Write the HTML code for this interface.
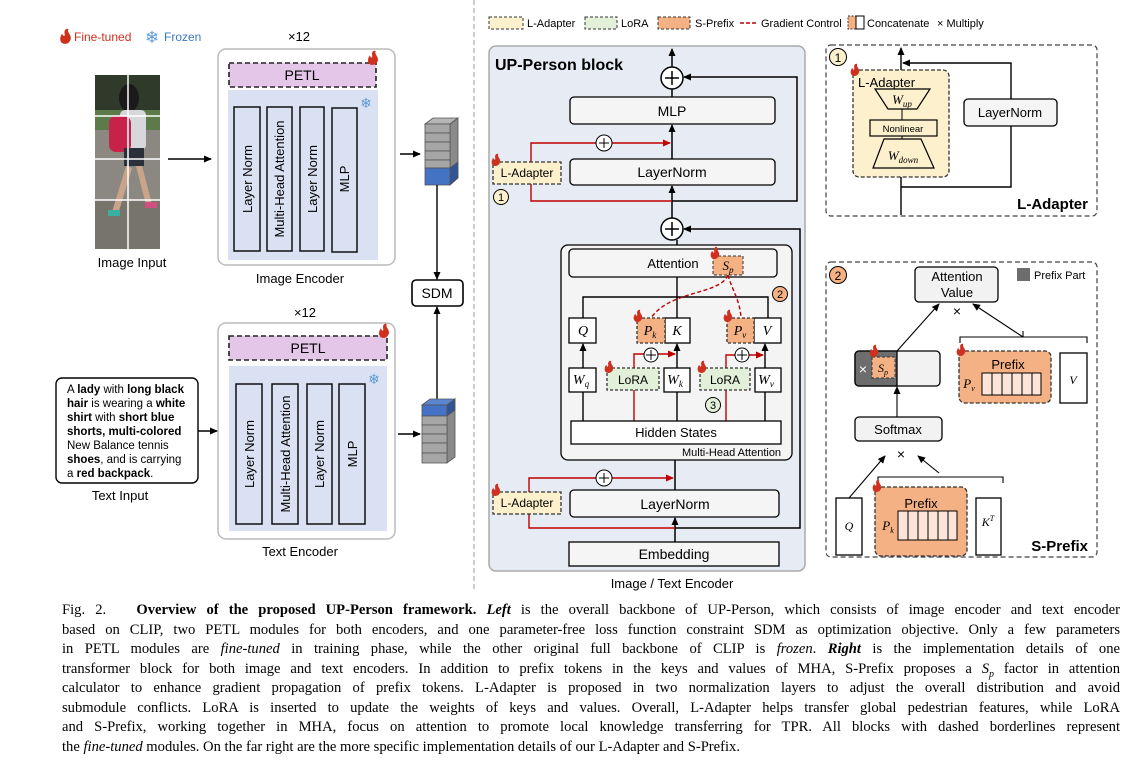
<!DOCTYPE html>
<html><head><meta charset="utf-8"><style>
body{margin:0;width:1140px;height:768px;background:#fff;position:relative;overflow:hidden}
svg{position:absolute;left:0;top:0}
.cap{position:absolute;left:62px;top:601px;width:1058px;font-family:"Liberation Serif",serif;font-size:14.6px;color:#000}
.cap div{height:19.5px;line-height:19.5px;text-align:justify;text-align-last:justify;white-space:nowrap}
.cap div.l{text-align-last:left}
</style></head><body>
<svg width="1140" height="600" viewBox="0 0 1140 600" font-family="Liberation Sans, sans-serif">
<defs>
<symbol id="fl" viewBox="-6 -1 12 15" overflow="visible"><path d="M0,13 C-4.5,13 -5.5,8 -2.5,4 C-1.5,7 0.5,7 -0.5,3 C-0.5,0 2,-1 3,0 C1.5,3 6,5 5,9 C4,12 2,13 0,13Z" fill="#d0301e"/></symbol>
<marker id="ab" markerWidth="8" markerHeight="8" refX="7" refY="4" orient="auto" markerUnits="userSpaceOnUse"><path d="M0,0.5 L8,4 L0,7.5Z" fill="#000"/></marker>
<marker id="ar" markerWidth="8" markerHeight="8" refX="7" refY="4" orient="auto" markerUnits="userSpaceOnUse"><path d="M0,0.5 L8,4 L0,7.5Z" fill="#c00000"/></marker>
</defs>

<!-- legend left -->
<use href="#fl" x="58" y="28" width="14" height="17"/>
<text x="74" y="41" font-size="12" fill="#d0301e">Fine-tuned</text>
<text x="152" y="43" font-size="17" fill="#5b9bd5" text-anchor="middle">❄</text>
<text x="164" y="41" font-size="12" fill="#3b78c4">Frozen</text>

<!-- image input -->
<rect x="95" y="75" width="65" height="174" fill="#7e827a"/>
<rect x="95" y="75" width="65" height="40" fill="#2f3a2a"/>
<rect x="95" y="110" width="65" height="20" fill="#5d7a4a"/>
<rect x="95" y="130" width="65" height="119" fill="#8a8880"/>
<rect x="95" y="200" width="65" height="49" fill="#77746c"/>
<ellipse cx="129" cy="98" rx="10" ry="14" fill="#1a1a1a"/>
<rect x="120" y="110" width="26" height="40" rx="5" fill="#d8d8dc"/>
<rect x="109" y="116" width="22" height="36" rx="7" fill="#c8224a"/>
<rect x="124" y="148" width="20" height="18" fill="#2a2f3a"/>
<path d="M126,166 L112,212 L118,214 L132,168Z M136,166 L146,205 L152,204 L142,166Z" fill="#c9a48a"/>
<rect x="108" y="210" width="12" height="6" fill="#3ab0a0"/><rect x="145" y="202" width="12" height="6" fill="#d05080"/>
<g stroke="#fff" stroke-width="1.5"><line x1="128" y1="75" x2="128" y2="249"/><line x1="95" y1="116" x2="160" y2="116"/><line x1="95" y1="159" x2="160" y2="159"/><line x1="95" y1="200" x2="160" y2="200"/></g>
<text x="132" y="267" font-size="13" text-anchor="middle">Image Input</text>
<line x1="168" y1="159" x2="211" y2="159" stroke="#000" stroke-width="1.4" marker-end="url(#ab)"/>

<!-- image encoder -->
<text x="299" y="41" font-size="13" text-anchor="middle">×12</text>
<rect x="218" y="49" width="177" height="216" rx="8" fill="#fff" stroke="#bbb" stroke-width="1.5"/>
<rect x="228" y="90" width="150" height="170" fill="#dae1f2"/>
<rect x="229" y="63" width="147" height="24" fill="#e3c6e8" stroke="#222" stroke-width="1.6" stroke-dasharray="5,3"/>
<text x="302" y="80" font-size="14" text-anchor="middle">PETL</text>
<use href="#fl" x="366" y="50" width="13" height="16"/>
<text x="366" y="108" font-size="14" fill="#5b9bd5" text-anchor="middle">❄</text>
<g fill="#dae1f2" stroke="#111" stroke-width="1.5">
<rect x="234" y="107" width="26" height="144"/><rect x="267" y="107" width="25" height="144"/><rect x="300" y="107" width="24" height="144"/><rect x="332" y="108" width="25" height="144"/></g>
<g font-size="13" text-anchor="middle">
<text transform="translate(252,179) rotate(-90)">Layer Norm</text>
<text transform="translate(284,179) rotate(-90)">Multi-Head Attention</text>
<text transform="translate(317,179) rotate(-90)">Layer Norm</text>
<text transform="translate(349,179) rotate(-90)">MLP</text></g>
<text x="300" y="283" font-size="13" text-anchor="middle">Image Encoder</text>
<line x1="400" y1="154" x2="420" y2="154" stroke="#000" stroke-width="1.4" marker-end="url(#ab)"/>

<!-- stack 1 -->
<g stroke="#555" stroke-width="0.8">
<path d="M425,124 L433,118 L458,118 L450,124Z" fill="#b5b5b5"/>
<path d="M450,124 L458,118 L458,178 L450,185Z" fill="#8a8a8a"/>
<rect x="425" y="124" width="25" height="9" fill="#a6a6a6"/><rect x="425" y="133" width="25" height="9" fill="#a6a6a6"/><rect x="425" y="142" width="25" height="9" fill="#a6a6a6"/><rect x="425" y="151" width="25" height="9" fill="#a6a6a6"/><rect x="425" y="160" width="25" height="8" fill="#a6a6a6"/><rect x="425" y="168" width="25" height="17" fill="#4472c4"/>
<path d="M450,168 L458,162 L458,178 L450,185Z" fill="#2f5597"/></g>
<line x1="437" y1="185" x2="437" y2="279" stroke="#000" stroke-width="1.4" marker-end="url(#ab)"/>
<rect x="412" y="280" width="51" height="26" rx="4" fill="#fff" stroke="#000" stroke-width="1.6"/>
<text x="437" y="298" font-size="14" text-anchor="middle">SDM</text>
<line x1="437" y1="399" x2="437" y2="307" stroke="#000" stroke-width="1.4" marker-end="url(#ab)"/>

<!-- text encoder -->
<text x="305" y="317" font-size="13" text-anchor="middle">×12</text>
<rect x="218" y="323" width="177" height="216" rx="8" fill="#fff" stroke="#bbb" stroke-width="1.5"/>
<rect x="229" y="366" width="158" height="165" fill="#dae1f2"/>
<rect x="229" y="336" width="158" height="24" fill="#e3c6e8" stroke="#222" stroke-width="1.6" stroke-dasharray="5,3"/>
<text x="308" y="353" font-size="14" text-anchor="middle">PETL</text>
<use href="#fl" x="377" y="323" width="13" height="16"/>
<text x="374" y="384" font-size="14" fill="#5b9bd5" text-anchor="middle">❄</text>
<g fill="#dae1f2" stroke="#111" stroke-width="1.5">
<rect x="236" y="384" width="26" height="140"/><rect x="272" y="384" width="26" height="140"/><rect x="307" y="384" width="25" height="140"/><rect x="339" y="384" width="26" height="140"/></g>
<g font-size="13" text-anchor="middle">
<text transform="translate(254,454) rotate(-90)">Layer Norm</text>
<text transform="translate(290,454) rotate(-90)">Multi-Head Attention</text>
<text transform="translate(324,454) rotate(-90)">Layer Norm</text>
<text transform="translate(357,454) rotate(-90)">MLP</text></g>
<text x="300" y="556" font-size="13" text-anchor="middle">Text Encoder</text>

<!-- text input -->
<rect x="56" y="378" width="142" height="105" rx="6" fill="#fff" stroke="#000" stroke-width="1.4"/>
<g font-size="11.5">
<text x="67" y="393">A <tspan font-weight="bold">lady</tspan> with <tspan font-weight="bold">long black</tspan></text>
<text x="67" y="407"><tspan font-weight="bold">hair</tspan> is wearing a <tspan font-weight="bold">white</tspan></text>
<text x="67" y="421"><tspan font-weight="bold">shirt</tspan> with <tspan font-weight="bold">short blue</tspan></text>
<text x="67" y="435" font-weight="bold">shorts, multi-colored</text>
<text x="67" y="449">New Balance tennis</text>
<text x="67" y="463"><tspan font-weight="bold">shoes</tspan>, and is carrying</text>
<text x="67" y="477">a <tspan font-weight="bold">red backpack</tspan>.</text></g>
<text x="120" y="500" font-size="13" text-anchor="middle">Text Input</text>
<line x1="198" y1="431" x2="217" y2="431" stroke="#000" stroke-width="1.4" marker-end="url(#ab)"/>
<line x1="398" y1="434" x2="420" y2="434" stroke="#000" stroke-width="1.4" marker-end="url(#ab)"/>
<!-- stack 2 -->
<g stroke="#555" stroke-width="0.8">
<path d="M422,405 L430,399 L455,399 L447,405Z" fill="#5b86d0"/>
<path d="M447,405 L455,399 L455,457 L447,463Z" fill="#8a8a8a"/>
<path d="M447,405 L455,399 L455,410 L447,416Z" fill="#2f5597"/>
<rect x="422" y="405" width="25" height="11" fill="#4472c4"/><rect x="422" y="416" width="25" height="9" fill="#a6a6a6"/><rect x="422" y="425" width="25" height="9" fill="#a6a6a6"/><rect x="422" y="434" width="25" height="9" fill="#a6a6a6"/><rect x="422" y="443" width="25" height="10" fill="#a6a6a6"/><rect x="422" y="453" width="25" height="10" fill="#a6a6a6"/></g>

<line x1="474" y1="0" x2="474" y2="590" stroke="#bbb" stroke-width="1.5" stroke-dasharray="5,3"/>

<!-- top legend -->
<g font-size="11">
<rect x="489" y="17" width="34" height="12" fill="#fdf0cc" stroke="#333" stroke-dasharray="3,2"/><text x="527" y="27">L-Adapter</text>
<rect x="585" y="17" width="32" height="12" fill="#e2efd9" stroke="#333" stroke-dasharray="3,2"/><text x="621" y="27">LoRA</text>
<rect x="658" y="17" width="32" height="12" fill="#f4b183" stroke="#333" stroke-dasharray="3,2"/><text x="695" y="27">S-Prefix</text>
<line x1="740" y1="23" x2="758" y2="23" stroke="#c00000" stroke-width="1.6" stroke-dasharray="4,2"/><text x="761" y="27">Gradient Control</text>
<rect x="848" y="16" width="8" height="13" fill="#f4b183" stroke="#333" stroke-dasharray="2,1.5"/><rect x="856" y="16" width="8" height="13" fill="#fff" stroke="#000"/><text x="867" y="27">Concatenate</text>
<text x="937" y="27">× Multiply</text></g>

<!-- UP-Person block -->
<rect x="489" y="46" width="316" height="525" rx="7" fill="#e7ebf3" stroke="#aaa" stroke-width="1.5"/>
<text x="495" y="70" font-size="16" font-weight="bold">UP-Person block</text>
<g stroke="#000" stroke-width="1.5" fill="none">
<line x1="672" y1="67" x2="672" y2="49" marker-end="url(#ab)"/>
<line x1="672" y1="97" x2="672" y2="89"/>
<line x1="672" y1="159" x2="672" y2="125" marker-end="url(#ab)"/>
<line x1="672" y1="218" x2="672" y2="186" marker-end="url(#ab)"/>
<polyline points="672,201 797,201 797,77 684,77" marker-end="url(#ab)"/>
<line x1="677" y1="245" x2="677" y2="240"/>
<polyline points="675,528 800,528 800,229 684,229" marker-end="url(#ab)"/>
<line x1="675" y1="542" x2="675" y2="518" marker-end="url(#ab)"/>
<line x1="675" y1="490" x2="675" y2="446" marker-end="url(#ab)"/>
</g>
<circle cx="672" cy="78" r="11" fill="#fff" stroke="#000" stroke-width="1.5"/>
<path d="M665,78 h14 M672,71 v14" stroke="#000" stroke-width="1.5"/>
<circle cx="672" cy="229" r="11" fill="#fff" stroke="#000" stroke-width="1.5"/>
<path d="M665,229 h14 M672,222 v14" stroke="#000" stroke-width="1.5"/>
<rect x="570" y="97" width="205" height="27" rx="4" fill="#f5f5f5" stroke="#000" stroke-width="1.3"/>
<text x="672" y="116" font-size="14" text-anchor="middle">MLP</text>
<rect x="570" y="159" width="205" height="26" rx="4" fill="#f5f5f5" stroke="#000" stroke-width="1.3"/>
<text x="672" y="177" font-size="14" text-anchor="middle">LayerNorm</text>
<g stroke="#c00000" stroke-width="1.4" fill="none">
<polyline points="531,162 531,143 670,143" marker-end="url(#ar)"/>
<polyline points="531,184 531,201 672,201"/>
<polyline points="529,492 529,478 673,478" marker-end="url(#ar)"/>
<polyline points="529,514 529,528 675,528"/>
</g>
<circle cx="604" cy="143" r="8" fill="#fff" stroke="#000"/><path d="M599,143 h10 M604,138 v10" stroke="#000"/>
<circle cx="604" cy="478" r="8" fill="#fff" stroke="#000"/><path d="M599,478 h10 M604,473 v10" stroke="#000"/>
<rect x="493" y="162" width="68" height="22" fill="#fdf0cc" stroke="#333" stroke-width="1.3" stroke-dasharray="4,2"/>
<text x="527" y="177" font-size="12" text-anchor="middle">L-Adapter</text>
<use href="#fl" x="490" y="153" width="11" height="14"/>
<circle cx="501" cy="197" r="7.5" fill="#fdf0cc" stroke="#000"/><text x="501" y="201" font-size="11" text-anchor="middle">1</text>
<rect x="493" y="492" width="68" height="22" fill="#fdf0cc" stroke="#333" stroke-width="1.3" stroke-dasharray="4,2"/>
<text x="527" y="507" font-size="12" text-anchor="middle">L-Adapter</text>
<use href="#fl" x="490" y="483" width="11" height="14"/>

<!-- MHA -->
<rect x="561" y="245" width="231" height="215" rx="7" fill="#f4f4f4" stroke="#000" stroke-width="1.3"/>
<rect x="569" y="249" width="208" height="28" rx="4" fill="#f5f5f5" stroke="#000" stroke-width="1.3"/>
<text x="673" y="268" font-size="13" text-anchor="middle">Attention</text>
<g stroke="#000" stroke-width="1.4" fill="none">
<line x1="677" y1="277" x2="677" y2="297"/>
<polyline points="583,318 583,297 768,297 768,318"/>
<line x1="677" y1="297" x2="677" y2="318"/>
<line x1="583" y1="421" x2="583" y2="392"/><line x1="583" y1="368" x2="583" y2="344" marker-end="url(#ab)"/>
<line x1="677" y1="421" x2="677" y2="392"/><line x1="677" y1="368" x2="677" y2="344" marker-end="url(#ab)"/>
<line x1="765" y1="421" x2="765" y2="392"/><line x1="765" y1="368" x2="765" y2="344" marker-end="url(#ab)"/>
</g>
<g stroke="#c00000" stroke-width="1.4" fill="none">
<line x1="634" y1="421" x2="634" y2="390"/><polyline points="634,368 634,354 675,354" marker-end="url(#ar)"/>
<line x1="726" y1="421" x2="726" y2="390"/><polyline points="726,368 726,355 763,355" marker-end="url(#ar)"/>
<path d="M728,275 C720,295 670,290 651,318" stroke-dasharray="4,2.5"/>
<path d="M728,275 C732,290 740,300 741,318" stroke-dasharray="4,2.5"/>
</g>
<circle cx="651" cy="355" r="7" fill="#fff" stroke="#000"/><path d="M646,355 h10 M651,350 v10" stroke="#000"/>
<circle cx="742" cy="355" r="7" fill="#fff" stroke="#000"/><path d="M737,355 h10 M742,350 v10" stroke="#000"/>
<rect x="713" y="256" width="30" height="19" fill="#f4b183" stroke="#333" stroke-dasharray="3,2"/>
<text x="728" y="270" font-size="13" font-style="italic" font-family="Liberation Serif,serif" text-anchor="middle">S<tspan font-size="9" dy="3">p</tspan></text>
<use href="#fl" x="709" y="246" width="11" height="14"/>
<circle cx="780" cy="294" r="7.5" fill="#f4b183" stroke="#000"/><text x="780" y="298" font-size="11" text-anchor="middle">2</text>
<g fill="#fff" stroke="#000" stroke-width="1.3">
<rect x="569" y="318" width="27" height="25"/><rect x="665" y="318" width="25" height="25"/><rect x="754" y="318" width="27" height="25"/>
<rect x="569" y="368" width="27" height="24"/><rect x="664" y="368" width="26" height="24"/><rect x="755" y="368" width="26" height="24"/>
<rect x="571" y="421" width="210" height="23"/></g>
<g fill="#f4b183" stroke="#333" stroke-width="1.3" stroke-dasharray="3,2"><rect x="637" y="318" width="28" height="25"/><rect x="727" y="318" width="27" height="25"/></g>
<g fill="#e2efd9" stroke="#333" stroke-width="1.3" stroke-dasharray="3,2"><rect x="607" y="368" width="52" height="22"/><rect x="700" y="368" width="50" height="22"/></g>
<g font-family="Liberation Serif,serif" font-style="italic" font-size="14" text-anchor="middle">
<text x="583" y="335">Q</text><text x="677" y="335">K</text><text x="767" y="335">V</text>
<text x="650" y="335">P<tspan font-size="9" dy="3">k</tspan></text><text x="740" y="335">P<tspan font-size="9" dy="3">v</tspan></text>
<text x="581" y="384">W<tspan font-size="9" dy="3">q</tspan></text><text x="675" y="384">W<tspan font-size="9" dy="3">k</tspan></text><text x="766" y="384">W<tspan font-size="9" dy="3">v</tspan></text></g>
<text x="633" y="384" font-size="12" text-anchor="middle">LoRA</text><text x="725" y="384" font-size="12" text-anchor="middle">LoRA</text>
<use href="#fl" x="632" y="309" width="11" height="14"/><use href="#fl" x="722" y="309" width="11" height="14"/>
<use href="#fl" x="603" y="360" width="11" height="14"/><use href="#fl" x="696" y="360" width="11" height="14"/>
<circle cx="713" cy="405" r="7.5" fill="#e2efd9" stroke="#000"/><text x="713" y="409" font-size="11" text-anchor="middle">3</text>
<text x="676" y="437" font-size="13" text-anchor="middle">Hidden States</text>
<text x="682" y="456" font-size="11">Multi-Head Attention</text>
<rect x="570" y="490" width="209" height="27" rx="4" fill="#f5f5f5" stroke="#000" stroke-width="1.3"/>
<text x="675" y="509" font-size="14" text-anchor="middle">LayerNorm</text>
<rect x="569" y="542" width="210" height="24" fill="#f5f5f5" stroke="#000" stroke-width="1.3"/>
<text x="674" y="559" font-size="14" text-anchor="middle">Embedding</text>
<text x="672" y="588" font-size="13" text-anchor="middle">Image / Text Encoder</text>

<!-- L-Adapter panel -->
<rect x="826" y="45" width="271" height="171" rx="5" fill="#fff" stroke="#444" stroke-width="1.2" stroke-dasharray="5,3"/>
<text x="1088" y="209" font-size="15" font-weight="bold" text-anchor="end">L-Adapter</text>
<circle cx="838" cy="57" r="8.5" fill="#fdf0cc" stroke="#000"/><text x="838" y="62" font-size="12" text-anchor="middle">1</text>
<g stroke="#000" stroke-width="1.4" fill="none">
<line x1="901" y1="215" x2="901" y2="177"/>
<polyline points="901,187 1011,187 1011,126"/>
<polyline points="1011,99 1011,63 903,63" marker-end="url(#ab)"/>
<line x1="901" y1="70" x2="901" y2="48" marker-end="url(#ab)"/>
</g>
<rect x="853" y="70" width="96" height="107" rx="6" fill="#fdf0cc" stroke="#333" stroke-width="1.3" stroke-dasharray="4,2"/>
<use href="#fl" x="849" y="63" width="11" height="14"/>
<text x="858" y="87" font-size="13">L-Adapter</text>
<line x1="902" y1="109" x2="902" y2="139" stroke="#000"/>
<path d="M875,89 L930,89 L917,109 L888,109Z" fill="#fdf0cc" stroke="#000" stroke-width="1.2"/>
<text x="902" y="104" font-size="13" font-family="Liberation Serif,serif" font-style="italic" text-anchor="middle">W<tspan font-size="9" dy="3">up</tspan></text>
<rect x="870" y="120" width="67" height="16" fill="#fdf0cc" stroke="#000" stroke-width="1.2"/>
<text x="903" y="132" font-size="9.5" text-anchor="middle">Nonlinear</text>
<path d="M884,139 L921,139 L934,168 L873,168Z" fill="#fdf0cc" stroke="#000" stroke-width="1.2"/>
<text x="903" y="160" font-size="13" font-family="Liberation Serif,serif" font-style="italic" text-anchor="middle">W<tspan font-size="9" dy="3">down</tspan></text>
<rect x="964" y="99" width="93" height="27" rx="4" fill="#f5f5f5" stroke="#000" stroke-width="1.3"/>
<text x="1010" y="117" font-size="13" text-anchor="middle">LayerNorm</text>

<!-- S-Prefix panel -->
<rect x="826" y="262" width="271" height="295" rx="5" fill="#fff" stroke="#444" stroke-width="1.2" stroke-dasharray="5,3"/>
<text x="1088" y="551" font-size="15" font-weight="bold" text-anchor="end">S-Prefix</text>
<circle cx="838" cy="275" r="8.5" fill="#f4b183" stroke="#000"/><text x="838" y="280" font-size="12" text-anchor="middle">2</text>
<rect x="1017" y="268" width="13" height="13" fill="#6d6d6d"/><text x="1034" y="279" font-size="11">Prefix Part</text>
<rect x="915" y="267" width="83" height="35" rx="4" fill="#f2f2f2" stroke="#000" stroke-width="1.3"/>
<text x="957" y="281" font-size="13" text-anchor="middle">Attention</text><text x="957" y="297" font-size="13" text-anchor="middle">Value</text>
<text x="957" y="316" font-size="14" text-anchor="middle">×</text>
<g stroke="#000" stroke-width="1.1" fill="none">
<line x1="897" y1="351" x2="939" y2="304" marker-end="url(#ab)"/>
<line x1="1023" y1="337" x2="973" y2="304" marker-end="url(#ab)"/>
<polyline points="960,343 960,337 1087,337 1087,343"/><line x1="1023" y1="337" x2="1023" y2="331"/>
<line x1="897" y1="417" x2="897" y2="387" marker-end="url(#ab)"/>
<line x1="849" y1="498" x2="885" y2="456" marker-end="url(#ab)"/>
<line x1="939" y1="473" x2="918" y2="456" marker-end="url(#ab)"/>
<polyline points="878,483 878,477 1003,477 1003,483"/>
</g>
<rect x="855" y="351" width="85" height="35" rx="4" fill="#f2f2f2" stroke="#000" stroke-width="1.3"/>
<path d="M859,351 H897 V386 H859 A4,4 0 0 1 855,382 V355 A4,4 0 0 1 859,351Z" fill="#6d6d6d" stroke="#000" stroke-width="1.3"/>
<text x="863" y="374" font-size="14" fill="#fff" text-anchor="middle">×</text>
<rect x="872" y="357" width="23" height="21" fill="#f4b183" stroke="#333" stroke-dasharray="3,2"/>
<text x="883" y="372" font-size="12" font-family="Liberation Serif,serif" font-style="italic" text-anchor="middle">S<tspan font-size="8" dy="3">p</tspan></text>
<use href="#fl" x="868" y="344" width="11" height="14"/>
<rect x="855" y="417" width="87" height="24" rx="4" fill="#f2f2f2" stroke="#000" stroke-width="1.3"/>
<text x="898" y="434" font-size="13" text-anchor="middle">Softmax</text>
<text x="901" y="459" font-size="14" text-anchor="middle">×</text>
<rect x="836" y="498" width="26" height="57" fill="#fff" stroke="#000" stroke-width="1.3"/>
<text x="849" y="530" font-size="12" font-family="Liberation Serif,serif" font-style="italic" text-anchor="middle">Q</text>
<rect x="976" y="498" width="25" height="57" fill="#fff" stroke="#000" stroke-width="1.3"/>
<text x="988" y="526" font-size="12" font-family="Liberation Serif,serif" font-style="italic" text-anchor="middle">K<tspan font-size="8" dy="-5">T</tspan></text>
<rect x="1060" y="353" width="27" height="50" fill="#fff" stroke="#000" stroke-width="1.3"/>
<text x="1073" y="384" font-size="12" font-family="Liberation Serif,serif" font-style="italic" text-anchor="middle">V</text>
<rect x="875" y="487" width="92" height="69" rx="6" fill="#f4b183" stroke="#333" stroke-width="1.3" stroke-dasharray="4,2"/>
<use href="#fl" x="871" y="479" width="11" height="14"/>
<text x="921" y="508" font-size="13" text-anchor="middle">Prefix</text>
<text x="888" y="530" font-size="13" font-family="Liberation Serif,serif" font-style="italic" text-anchor="middle">P<tspan font-size="8" dy="3">k</tspan></text>
<g fill="#fde4d8" stroke="#000" stroke-width="1"><rect x="898" y="511" width="10" height="29"/><rect x="908" y="511" width="10" height="29"/><rect x="918" y="511" width="10" height="29"/><rect x="928" y="511" width="10" height="29"/><rect x="938" y="511" width="10" height="29"/><rect x="948" y="511" width="9" height="29"/></g>
<rect x="959" y="351" width="92" height="52" rx="6" fill="#f4b183" stroke="#333" stroke-width="1.3" stroke-dasharray="4,2"/>
<use href="#fl" x="955" y="343" width="11" height="14"/>
<text x="1008" y="369" font-size="13" text-anchor="middle">Prefix</text>
<text x="969" y="388" font-size="13" font-family="Liberation Serif,serif" font-style="italic" text-anchor="middle">P<tspan font-size="8" dy="3">v</tspan></text>
<g fill="#fde4d8" stroke="#000" stroke-width="1"><rect x="982" y="373" width="10" height="22"/><rect x="992" y="373" width="10" height="22"/><rect x="1002" y="373" width="10" height="22"/><rect x="1012" y="373" width="10" height="22"/><rect x="1022" y="373" width="10" height="22"/><rect x="1032" y="373" width="9" height="22"/></g>
</svg>

<div class="cap">
<div>Fig. 2.&nbsp;&nbsp; <b>Overview of the proposed UP-Person framework.</b> <b><i>Left</i></b> is the overall backbone of UP-Person, which consists of image encoder and text encoder</div>
<div>based on CLIP, two PETL modules for both encoders, and one parameter-free loss function constraint SDM as optimization objective. Only a few parameters</div>
<div>in PETL modules are <i>fine-tuned</i> in training phase, while the other original full backbone of CLIP is <i>frozen</i>. <b><i>Right</i></b> is the implementation details of one</div>
<div>transformer block for both image and text encoders. In addition to prefix tokens in the keys and values of MHA, S-Prefix proposes a <i>S<sub style="font-size:10px">p</sub></i> factor in attention</div>
<div>calculator to enhance gradient propagation of prefix tokens. L-Adapter is proposed in two normalization layers to adjust the overall distribution and avoid</div>
<div>submodule conflicts. LoRA is inserted to update the weights of keys and values. Overall, L-Adapter helps transfer global pedestrian features, while LoRA</div>
<div>and S-Prefix, working together in MHA, focus on attention to promote local knowledge transferring for TPR. All blocks with dashed borderlines represent</div>
<div class="l">the <i>fine-tuned</i> modules. On the far right are the more specific implementation details of our L-Adapter and S-Prefix.</div>
</div>
</body></html>
